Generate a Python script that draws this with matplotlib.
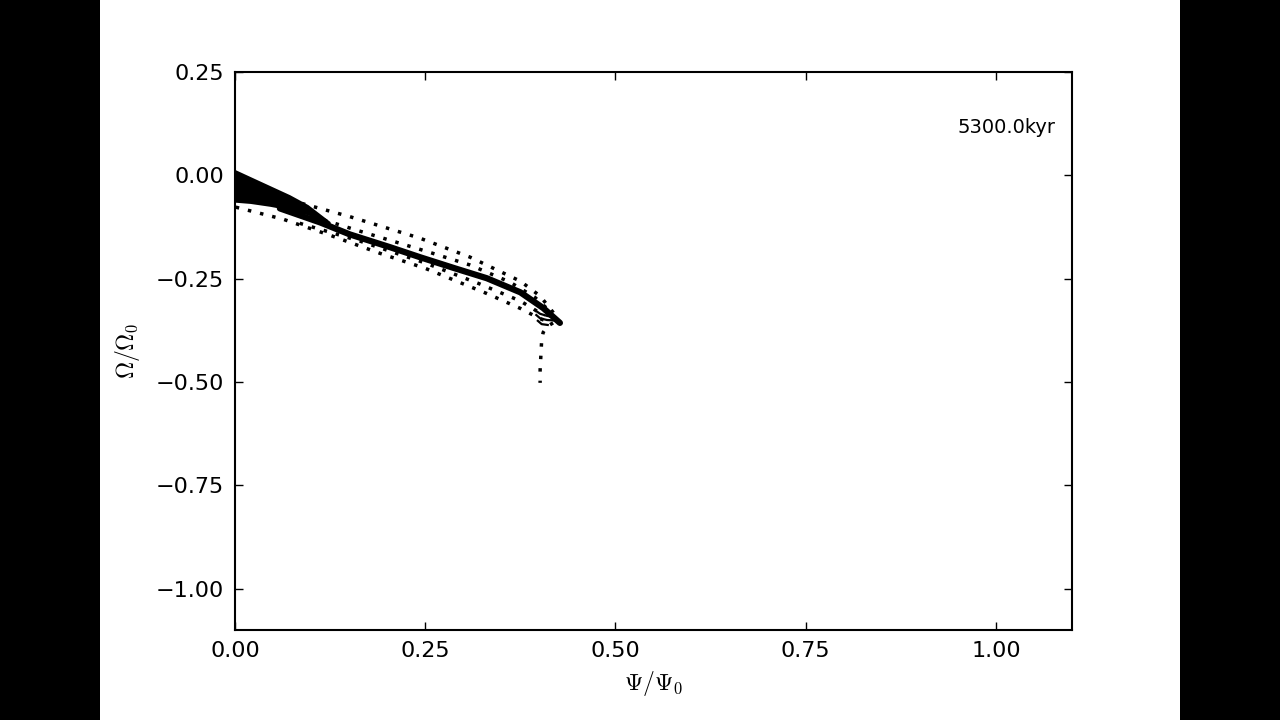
import matplotlib
matplotlib.use("Agg")
import matplotlib.pyplot as plt
from matplotlib.patches import Rectangle

plt.rcParams["mathtext.fontset"] = "cm"

# dense wedge near the origin
band_x = [0.0, 0.020, 0.046, 0.072, 0.096, 0.125]
band_top = [0.014, -0.003, -0.025, -0.047, -0.071, -0.112]
band_bot = [-0.065, -0.068, -0.075, -0.084, -0.096, -0.125]

# main ridge
ridge_x = [0.059, 0.112, 0.151, 0.204, 0.243, 0.289, 0.331, 0.375, 0.405, 0.427]
ridge_y = [-0.080, -0.114, -0.143, -0.174, -0.198, -0.225, -0.249, -0.283, -0.321, -0.357]

# dotted tracks
upper_out_x = [0.072, 0.151, 0.243, 0.309, 0.375, 0.401, 0.420]
upper_out_y = [-0.060, -0.100, -0.152, -0.198, -0.256, -0.292, -0.336]
upper_in_x = [0.085, 0.164, 0.250, 0.309, 0.361, 0.394, 0.417]
upper_in_y = [-0.090, -0.135, -0.183, -0.217, -0.258, -0.295, -0.334]
lower_out_x = [0.001, 0.063, 0.125, 0.191, 0.250, 0.331, 0.375, 0.401, 0.417]
lower_out_y = [-0.077, -0.106, -0.145, -0.189, -0.225, -0.286, -0.322, -0.347, -0.357]
lower_in_x = [0.085, 0.164, 0.250, 0.322, 0.375, 0.407]
lower_in_y = [-0.116, -0.159, -0.212, -0.263, -0.304, -0.340]
tail_x = [0.418, 0.410, 0.405, 0.403, 0.402, 0.401, 0.401]
tail_y = [-0.357, -0.366, -0.380, -0.400, -0.435, -0.471, -0.502]

# small open hooks by the tip
hook1_x = [0.394, 0.401, 0.410, 0.420]
hook1_y = [-0.326, -0.335, -0.340, -0.344]
hook2_x = [0.396, 0.401, 0.410, 0.419]
hook2_y = [-0.338, -0.346, -0.350, -0.351]
hook3_x = [0.398, 0.403, 0.411]
hook3_y = [-0.352, -0.360, -0.362]

time_label = "5300.0kyr"

fig = plt.figure(figsize=(12.8, 7.2), dpi=100, facecolor="black")
fig.patches.append(Rectangle((100 / 1280, 0), 1080 / 1280, 1, transform=fig.transFigure,
                             facecolor="white", edgecolor="none", zorder=-10))
ax = fig.add_axes([235 / 1280, 90 / 720, 837 / 1280, 558 / 720])

ax.fill_between(band_x, band_bot, band_top, color="black", lw=0)
ax.plot(ridge_x, ridge_y, color="black", lw=4.5, solid_capstyle="round")
for xs, ys in [(upper_out_x, upper_out_y), (upper_in_x, upper_in_y),
               (lower_out_x, lower_out_y), (lower_in_x, lower_in_y), (tail_x, tail_y)]:
    ax.plot(xs, ys, color="black", lw=2.5, linestyle=(0, (1, 2.6)))
for xs, ys in [(hook1_x, hook1_y), (hook2_x, hook2_y), (hook3_x, hook3_y)]:
    ax.plot(xs, ys, color="black", lw=1.6)

fmt = plt.FuncFormatter(lambda v, p: ("%.2f" % v).replace("-", "\u2212"))
ax.set_xlim(0, 1.1)
ax.set_ylim(-1.1, 0.25)
ax.set_xticks([0, 0.25, 0.5, 0.75, 1.0])
ax.set_yticks([0.25, 0, -0.25, -0.5, -0.75, -1.0])
ax.xaxis.set_major_formatter(fmt)
ax.yaxis.set_major_formatter(fmt)
ax.tick_params(direction="in", top=True, right=True, length=6, width=1,
               labelsize=16, pad=8)
for s in ax.spines.values():
    s.set_linewidth(1.5)

ax.set_xlabel(r"$\Psi/\Psi_0$", fontsize=17, labelpad=6)
ax.set_ylabel(r"$\Omega/\Omega_0$", fontsize=17, labelpad=10)
ax.text(0.98, 0.90, time_label, transform=ax.transAxes, ha="right", va="center",
        fontsize=14)

fig.savefig("out.png", dpi=100, facecolor=fig.get_facecolor())
